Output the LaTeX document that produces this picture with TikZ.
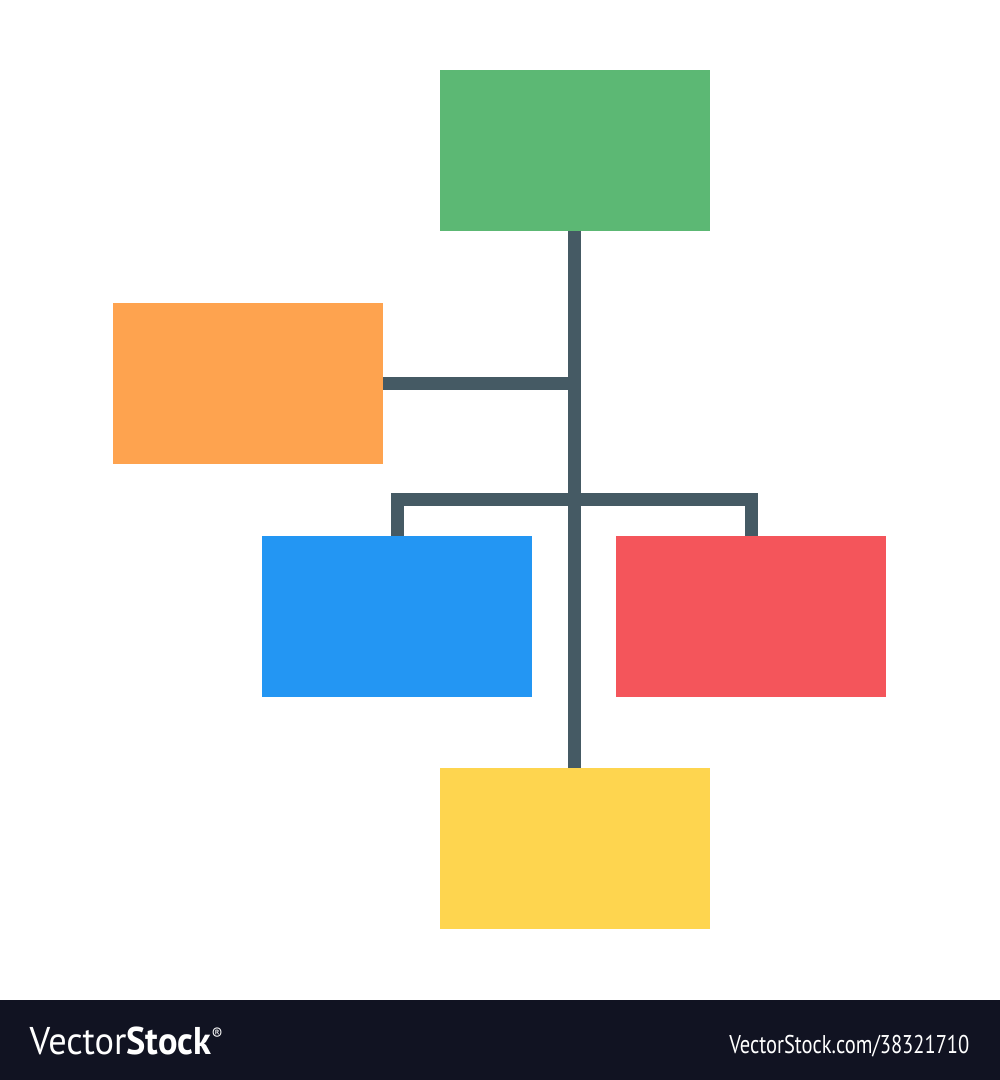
\documentclass[tikz,border=0pt]{standalone}
\usepackage{fontspec}
\setmainfont{PT Sans}
\usepackage{xcolor}
\definecolor{greenbox}{HTML}{5CB874}
\definecolor{orangebox}{HTML}{FEA34F}
\definecolor{bluebox}{HTML}{2396F3}
\definecolor{redbox}{HTML}{F4555B}
\definecolor{yellowbox}{HTML}{FED54F}
\definecolor{linkcolor}{HTML}{455A64}
\definecolor{footercolor}{HTML}{111322}
\begin{document}
\begin{tikzpicture}
	\tikzstyle{block}=[inner sep=0pt, outer sep=0pt, minimum width=2.7cm, minimum height=1.61cm]
	\tikzstyle{link}=[draw=linkcolor, line width=0.13cm]
	\useasboundingbox (0,0) rectangle (10,-10.8);
	\fill[white] (0,0) rectangle (10,-10);
	% boxes
	\node (top) [block, fill=greenbox] at (5.745,-1.505) {};
	\node (side) [block, fill=orangebox] at (2.48,-3.835) {};
	\node (left) [block, fill=bluebox] at (3.97,-6.165) {};
	\node (right) [block, fill=redbox] at (7.51,-6.165) {};
	\node (bottom) [block, fill=yellowbox] at (5.745,-8.485) {};
	% connectors
	\coordinate (split) at (5.745,-4.99);
	\draw [link] (top.south) -- (bottom.north);
	\draw [link] (side.east) -- (side.east -| top.south);
	\draw [link] (left.north) |- (split) -| (right.north);
	% footer
	\fill[footercolor] (0,-10) rectangle (10,-10.8);
	\node (brand) [anchor=west, white, font=\fontsize{11}{12}\selectfont, inner sep=0pt] at (0.29,-10.41) {\scalebox{0.94}[1]{Vector\textbf{Stock}\textsuperscript{\tiny ®}}};
	\node (ref) [anchor=east, white, font=\fontsize{7.3}{9}\selectfont, inner sep=0pt] at (9.7,-10.465) {\scalebox{0.8}[1]{VectorStock.com/38321710}};
\end{tikzpicture}
\end{document}
